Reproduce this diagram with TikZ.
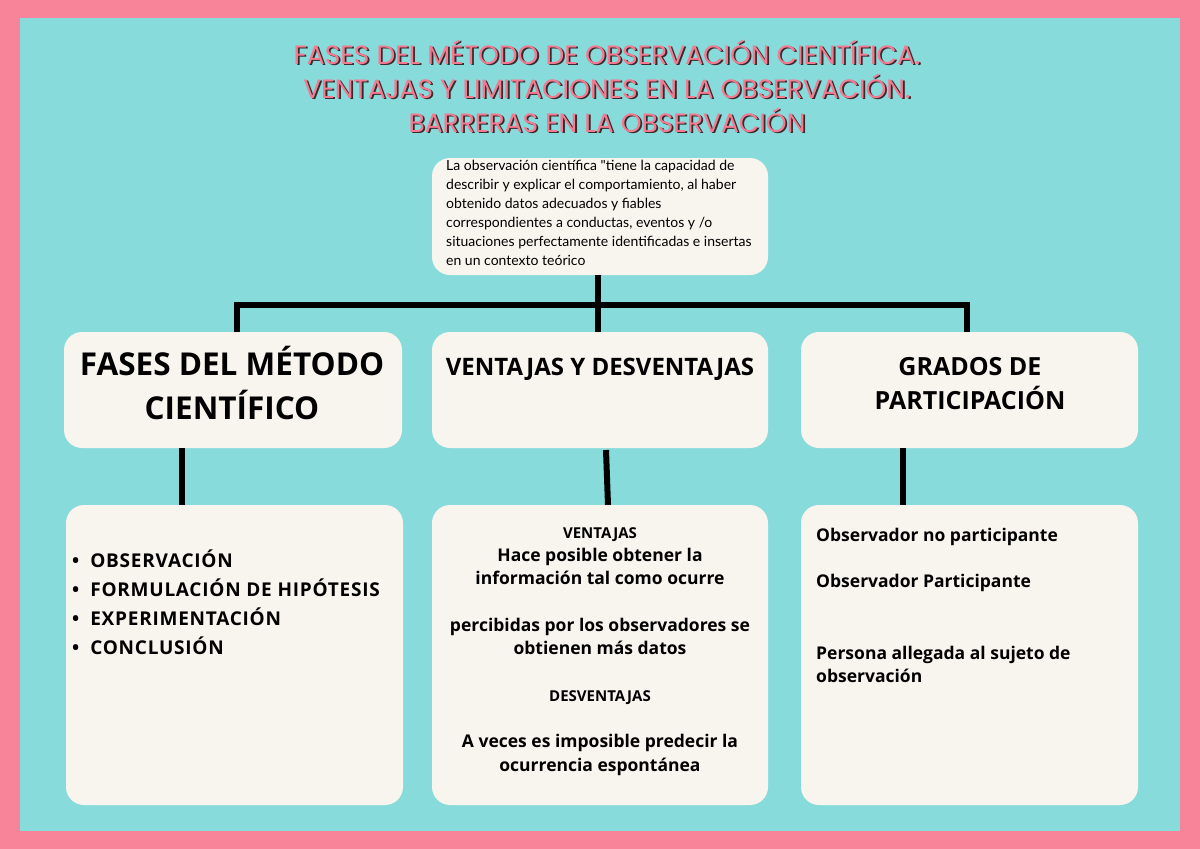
\documentclass[tikz,border=0pt]{standalone}
\usepackage{fontspec}
\setmainfont{Open Sans}
\newfontfamily\titlefont{Poppins}
\newfontfamily\smallfont{Lato}
\definecolor{bgpink}{HTML}{F88499}
\definecolor{bgcyan}{HTML}{87DBDB}
\definecolor{boxc}{HTML}{F8F4EE}
\definecolor{tpink}{HTML}{F47A90}
\definecolor{tdark}{HTML}{3A2A2E}
\begin{document}
\begin{tikzpicture}[x=1pt,y=-1pt,
  card/.style={fill=boxc,rounded corners=18pt},
  conn/.style={line width=6pt,black},
  head/.style={align=center}]
\useasboundingbox (0,0) rectangle (1200,849);
\fill[bgpink] (0,0) rectangle (1200,849);
\fill[bgcyan] (20,18) rectangle (1180,831);
% title
\foreach \c/\d in {tdark/1.8,tpink/0}{
\node[text=\c,font=\titlefont\fontsize{26.5}{34}\selectfont,align=center] (title\d) at (607+\d,86+\d)
 {FASES DEL MÉTODO DE OBSERVACIÓN CIENTÍFICA.\\VENTAJAS Y LIMITACIONES EN LA OBSERVACIÓN.\\BARRERAS EN LA OBSERVACIÓN};}
% top box
\fill[card] (432,158) rectangle (768,275);
\node[anchor=north west,align=left,font=\smallfont\fontsize{14}{19}\selectfont,inner sep=0] (top) at (446,160)
{La observación científica "tiene la capacidad de\\describir y explicar el comportamiento, al haber\\obtenido datos adecuados y fiables\\correspondientes a conductas, eventos y /o\\situaciones perfectamente identificadas e insertas\\en un contexto teórico};
\coordinate (tb) at (598,275);
\coordinate (hm) at (598,305);
\coordinate (hl) at (237,305);
\coordinate (hr) at (967,305);
\draw[conn] (tb) -- (hm);
\draw[conn,line cap=rect] (hl) -- (hr);
\draw[conn] (hl) -- (237,332);
\draw[conn] (hm) -- (598,332);
\draw[conn] (hr) -- (967,332);
% row1
\fill[card] (64,332) rectangle (402,448);
\fill[card] (432,332) rectangle (768,448);
\fill[card] (801,332) rectangle (1138,448);
\node[head,font=\bfseries\fontsize{31.5}{44}\selectfont] (h1) at (232,383) {FASES DEL MÉTODO\\CIENTÍFICO};
\node[head,font=\bfseries\fontsize{24}{30}\selectfont] (h2) at (600,369) {VENTAJAS Y DESVENTAJAS};
\node[head,font=\bfseries\fontsize{25}{34}\selectfont] (h3) at (970,384) {GRADOS DE\\PARTICIPACIÓN};
% connectors
\draw[conn] (182,448) -- (182,505);
\draw[conn] (606,450) -- (608,505);
\draw[conn] (903,448) -- (903,505);
% row2
\fill[card] (66,505) rectangle (403,805);
\fill[card] (432,505) rectangle (768,805);
\fill[card] (801,505) rectangle (1138,805);
\node[anchor=north west,align=left,inner sep=0,font=\bfseries\fontsize{19}{29}\selectfont\addfontfeature{LetterSpace=4}] (l1) at (72,550)
{\textbullet\hspace{11pt}OBSERVACIÓN\\\textbullet\hspace{11pt}FORMULACIÓN DE HIPÓTESIS\\\textbullet\hspace{11pt}EXPERIMENTACIÓN\\\textbullet\hspace{11pt}CONCLUSIÓN};
\node[anchor=north,align=center,inner sep=0,font=\bfseries\fontsize{17.5}{23.3}\selectfont] (l2) at (600,527)
{{\fontsize{15}{23}\selectfont VENTAJAS}\\Hace posible obtener la\\información tal como ocurre\\\\percibidas por los observadores se\\obtienen más datos\\\\{\fontsize{15}{23}\selectfont DESVENTAJAS}\\\\A veces es imposible predecir la\\ocurrencia espontánea};
\node[anchor=north west,align=left,inner sep=0,font=\bfseries\fontsize{17.5}{23}\selectfont] (l3) at (816,528)
{Observador no participante\\[23pt]Observador Participante\\[49pt]Persona allegada al sujeto de\\observación};
\end{tikzpicture}
\end{document}
